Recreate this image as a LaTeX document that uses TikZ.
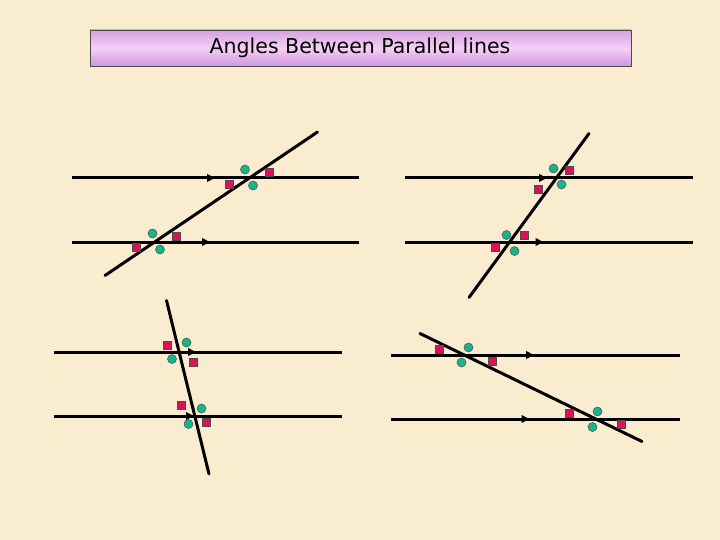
\documentclass[tikz,border=0pt]{standalone}
\usepackage{fontspec}
\setmainfont{DejaVu Sans}
\usetikzlibrary{arrows.meta}
\definecolor{bg}{RGB}{250,236,206}
\definecolor{sqfill}{RGB}{222,16,90}
\definecolor{cifill}{RGB}{24,180,140}
\definecolor{titletop}{RGB}{214,160,226}
\definecolor{titlemid}{RGB}{246,208,246}
\definecolor{titlebot}{RGB}{206,150,222}
\tikzset{
  x=1pt, y=-1pt,
  parline/.style={line width=3pt, black},
  transline/.style={line width=3pt, black, line cap=round},
  arrowmark/.style={-{Triangle[length=8pt,width=7.5pt]}, line width=3pt},
  sqmark/.style={draw=black!70, line width=0.5pt, fill=sqfill, minimum size=8pt, inner sep=0pt, rectangle},
  cimark/.style={draw=black!70, line width=0.5pt, fill=cifill, minimum size=9pt, inner sep=0pt, circle},
  titlebox/.style={draw=black!70, line width=0.6pt, top color=titletop, bottom color=titlebot, middle color=titlemid}
}
\begin{document}
\begin{tikzpicture}
\useasboundingbox (0,0) rectangle (720,540);
\fill[bg] (0,0) rectangle (720,540);
% title
\shade[titlebox] (90,30) rectangle (631,66);
\node[font=\fontsize{20.5}{22}\selectfont] (title) at (360,48) {Angles Between Parallel lines};

% ---------- Panel 1 ----------
\coordinate (p1a1) at (72,178); \coordinate (p1b1) at (359,178);
\coordinate (p1a2) at (72,242); \coordinate (p1b2) at (359,242);
\coordinate (p1t1) at (105,275.5); \coordinate (p1t2) at (317.5,132);
\draw[parline] (p1a1) -- (p1b1);
\draw[parline] (p1a2) -- (p1b2);
\draw[arrowmark] (p1a1) -- (215,178);
\draw[arrowmark] (p1a2) -- (210,242);
\draw[transline] (p1t1) -- (p1t2);
\node[cimark] (p1c1) at (245,169.5) {};
\node[sqmark] (p1s1) at (269,172.5) {};
\node[sqmark] (p1s2) at (229,184) {};
\node[cimark] (p1c2) at (253,185.5) {};
\node[cimark] (p1c3) at (152.5,233.5) {};
\node[sqmark] (p1s3) at (176.5,236.5) {};
\node[sqmark] (p1s4) at (136.5,247.5) {};
\node[cimark] (p1c4) at (160,249.5) {};

% ---------- Panel 2 ----------
\coordinate (p2a1) at (405,178); \coordinate (p2b1) at (693,178);
\coordinate (p2a2) at (405,242); \coordinate (p2b2) at (693,242);
\coordinate (p2t1) at (469,297.5); \coordinate (p2t2) at (589,133.5);
\draw[parline] (p2a1) -- (p2b1);
\draw[parline] (p2a2) -- (p2b2);
\draw[arrowmark] (p2a1) -- (547,178);
\draw[arrowmark] (p2a2) -- (543.5,242);
\draw[transline] (p2t1) -- (p2t2);
\node[cimark] (p2c1) at (553.5,168.5) {};
\node[sqmark] (p2s1) at (569,170.5) {};
\node[sqmark] (p2s2) at (538.5,189.5) {};
\node[cimark] (p2c2) at (561.5,184.5) {};
\node[cimark] (p2c3) at (506.5,235) {};
\node[sqmark] (p2s3) at (524.5,235) {};
\node[sqmark] (p2s4) at (495.5,247.5) {};
\node[cimark] (p2c4) at (514.5,251) {};

% ---------- Panel 3 ----------
\coordinate (p3a1) at (54,352); \coordinate (p3b1) at (342,352);
\coordinate (p3a2) at (54,416); \coordinate (p3b2) at (342,416);
\coordinate (p3t1) at (166.5,300.5); \coordinate (p3t2) at (209,474);
\draw[parline] (p3a1) -- (p3b1);
\draw[parline] (p3a2) -- (p3b2);
\draw[arrowmark] (p3a1) -- (196,352);
\draw[arrowmark] (p3a2) -- (194,416);
\draw[transline] (p3t1) -- (p3t2);
\node[sqmark] (p3s1) at (167.5,345) {};
\node[cimark] (p3c1) at (186.5,342.5) {};
\node[cimark] (p3c2) at (172,359) {};
\node[sqmark] (p3s2) at (193,362) {};
\node[sqmark] (p3s3) at (181.5,405.5) {};
\node[cimark] (p3c3) at (201.5,408.5) {};
\node[cimark] (p3c4) at (188.5,424) {};
\node[sqmark] (p3s4) at (206,422.5) {};

% ---------- Panel 4 ----------
\coordinate (p4a1) at (391,355); \coordinate (p4b1) at (680,355);
\coordinate (p4a2) at (391,419); \coordinate (p4b2) at (680,419);
\coordinate (p4t1) at (420,333.5); \coordinate (p4t2) at (642,441.5);
\draw[parline] (p4a1) -- (p4b1);
\draw[parline] (p4a2) -- (p4b2);
\draw[arrowmark] (p4a1) -- (534,355);
\draw[arrowmark] (p4a2) -- (529.5,419);
\draw[transline] (p4t1) -- (p4t2);
\node[sqmark] (p4s1) at (439,349) {};
\node[cimark] (p4c1) at (468.5,347.5) {};
\node[cimark] (p4c2) at (461.5,362.5) {};
\node[sqmark] (p4s2) at (492.5,361) {};
\node[sqmark] (p4s3) at (569,413) {};
\node[cimark] (p4c3) at (597.5,411.5) {};
\node[cimark] (p4c4) at (592.5,427) {};
\node[sqmark] (p4s4) at (621.5,424) {};
\end{tikzpicture}
\end{document}
